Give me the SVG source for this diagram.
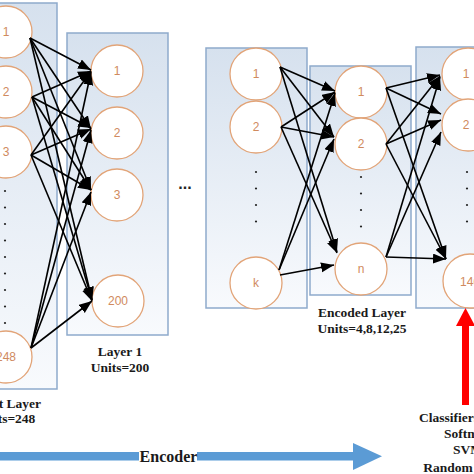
<svg xmlns="http://www.w3.org/2000/svg" width="474" height="474" viewBox="0 0 474 474">
<style>
.box{fill:url(#bg);stroke:#8eaacc;stroke-width:1.5}
.nd{fill:#ffffff;stroke:#e2a478;stroke-width:1.3}
.nl{font-family:"Liberation Sans",Arial,sans-serif;font-size:12px;fill:#d08a5e;text-anchor:middle}
.lb{font-family:"Liberation Serif","Times New Roman",serif;font-weight:bold;font-size:13.5px;fill:#1a1a1a;text-anchor:middle}
.cn line{stroke:#000;stroke-width:1.6;marker-end:url(#ah)}
.dt{fill:#222}
</style>
<defs>
<linearGradient id="bg" x1="0" y1="0" x2="0" y2="1">
<stop offset="0" stop-color="#d6e1ee"/>
<stop offset="1" stop-color="#f8fafd"/>
</linearGradient>
<marker id="ah" markerUnits="userSpaceOnUse" markerWidth="14" markerHeight="11" refX="13" refY="5" orient="auto">
<path d="M0,0 L13,5 L0,10 Z" fill="#000"/>
</marker>
</defs>
<rect width="474" height="474" fill="#fff"/>

<g id="input-layer">
<rect class="box" x="-10" y="3" width="67" height="386"/>
<circle class="nd" cx="6" cy="32" r="26"/><text class="nl" x="6" y="36">1</text>
<circle class="nd" cx="6" cy="92" r="26"/><text class="nl" x="6" y="96">2</text>
<circle class="nd" cx="6" cy="152" r="26"/><text class="nl" x="6" y="156">3</text>
<circle class="nd" cx="6" cy="357" r="26"/><text class="nl" x="6" y="361">248</text>
<g class="dt">
<circle cx="5" cy="191" r="1.1"/><circle cx="5" cy="207.5" r="1.1"/><circle cx="5" cy="224" r="1.1"/>
<circle cx="5" cy="240.5" r="1.1"/><circle cx="5" cy="257" r="1.1"/><circle cx="5" cy="273.5" r="1.1"/>
<circle cx="5" cy="290" r="1.1"/><circle cx="5" cy="306.5" r="1.1"/><circle cx="5" cy="323" r="1.1"/>
</g>
<text class="lb" x="6" y="408">Input Layer</text>
<text class="lb" x="6" y="423">Units=248</text>
</g>

<g id="layer-1">
<rect class="box" x="67" y="33" width="101" height="302"/>
<circle class="nd" cx="117" cy="71" r="26"/><text class="nl" x="117" y="75">1</text>
<circle class="nd" cx="117" cy="133" r="26"/><text class="nl" x="117" y="137">2</text>
<circle class="nd" cx="117" cy="195" r="26"/><text class="nl" x="117" y="199">3</text>
<circle class="nd" cx="118" cy="301" r="26"/><text class="nl" x="118" y="305">200</text>
<text class="lb" x="120" y="356">Layer 1</text>
<text class="lb" x="120" y="372">Units=200</text>
</g>

<g id="ellipsis">
<text x="185" y="189" style="font-family:'Liberation Sans',Arial,sans-serif;font-size:16px;font-weight:bold;fill:#222;text-anchor:middle">...</text>
</g>

<g id="layer-k">
<rect class="box" x="206" y="48" width="101" height="260"/>
<circle class="nd" cx="256" cy="74" r="26"/><text class="nl" x="256" y="78">1</text>
<circle class="nd" cx="256" cy="127" r="26"/><text class="nl" x="256" y="131">2</text>
<circle class="nd" cx="256" cy="283" r="26"/><text class="nl" x="256" y="287">k</text>
<g class="dt">
<circle cx="256" cy="172" r="1.1"/><circle cx="256" cy="188.5" r="1.1"/><circle cx="256" cy="205" r="1.1"/><circle cx="256" cy="221.5" r="1.1"/>
</g>
</g>

<g id="encoded-layer">
<rect class="box" x="310" y="66" width="101" height="229"/>
<circle class="nd" cx="361" cy="92" r="26"/><text class="nl" x="361" y="96">1</text>
<circle class="nd" cx="361" cy="144" r="26"/><text class="nl" x="361" y="148">2</text>
<circle class="nd" cx="361" cy="269" r="26"/><text class="nl" x="361" y="273">n</text>
<g class="dt">
<circle cx="361" cy="177" r="1.1"/><circle cx="361" cy="193.5" r="1.1"/><circle cx="361" cy="210" r="1.1"/><circle cx="361" cy="226.5" r="1.1"/>
</g>
<text class="lb" x="362" y="317">Encoded Layer</text>
<text class="lb" x="362" y="333">Units=4,8,12,25</text>
</g>

<g id="output-layer">
<rect class="box" x="416" y="47" width="70" height="261"/>
<circle class="nd" cx="468" cy="74" r="26"/><text class="nl" x="466" y="78">1</text>
<circle class="nd" cx="468" cy="125" r="26"/><text class="nl" x="466" y="129">2</text>
<circle class="nd" cx="470" cy="281" r="27"/><text class="nl" x="470" y="286">146</text>
<g class="dt">
<circle cx="467" cy="172" r="1.1"/><circle cx="467" cy="188.5" r="1.1"/><circle cx="467" cy="205" r="1.1"/><circle cx="467" cy="221.5" r="1.1"/>
</g>
</g>

<g id="connectors" class="cn">
<line x1="30" y1="38" x2="91" y2="70"/>
<line x1="30" y1="38" x2="91" y2="129"/>
<line x1="30" y1="38" x2="91" y2="190"/>
<line x1="30" y1="38" x2="92" y2="300"/>
<line x1="32" y1="97" x2="91" y2="71"/>
<line x1="32" y1="97" x2="91" y2="128"/>
<line x1="32" y1="97" x2="91" y2="190"/>
<line x1="32" y1="97" x2="92" y2="300"/>
<line x1="31" y1="155" x2="91" y2="71"/>
<line x1="31" y1="155" x2="91" y2="129"/>
<line x1="31" y1="155" x2="91" y2="190"/>
<line x1="31" y1="155" x2="92" y2="301"/>
<line x1="31" y1="348" x2="91" y2="72"/>
<line x1="31" y1="348" x2="91" y2="130"/>
<line x1="31" y1="348" x2="91" y2="192"/>
<line x1="31" y1="348" x2="92" y2="301"/>

<line x1="280" y1="67" x2="335" y2="91"/>
<line x1="280" y1="67" x2="334" y2="137"/>
<line x1="280" y1="67" x2="337" y2="252"/>
<line x1="281" y1="127" x2="335" y2="92"/>
<line x1="281" y1="127" x2="334" y2="137"/>
<line x1="281" y1="127" x2="337" y2="253"/>
<line x1="279" y1="270" x2="335" y2="93"/>
<line x1="279" y1="270" x2="334" y2="139"/>
<line x1="280" y1="275" x2="334" y2="265"/>

<line x1="386" y1="88" x2="440" y2="75"/>
<line x1="386" y1="88" x2="441" y2="114"/>
<line x1="386" y1="88" x2="446" y2="259"/>
<line x1="386" y1="144" x2="440" y2="76"/>
<line x1="386" y1="144" x2="441" y2="120"/>
<line x1="386" y1="144" x2="446" y2="259"/>
<line x1="386" y1="257" x2="440" y2="77"/>
<line x1="386" y1="257" x2="441" y2="132"/>
<line x1="386" y1="257" x2="446" y2="259"/>
</g>

<g id="classifier-arrow">
<rect x="462" y="324" width="7" height="81" fill="#ff0000"/>
<polygon points="465.5,308 475,326 456,326" fill="#ff0000"/>
</g>
<g id="classifier-label">
<text class="lb" x="419" y="422" style="text-anchor:start">Classifiers:</text>
<text class="lb" x="468" y="438">Softmax</text>
<text class="lb" x="468" y="454">SVM</text>
<text class="lb" x="468" y="472">Random Forest</text>
</g>

<g id="encoder-arrow">
<rect x="0" y="452" width="139" height="8.5" fill="#5b9bd5"/>
<rect x="197" y="452" width="157" height="8.5" fill="#5b9bd5"/>
<polygon points="353,443 382,456.2 353,470" fill="#5b9bd5"/>
<text x="168.5" y="461.5" style="font-family:'Liberation Serif','Times New Roman',serif;font-weight:bold;font-size:16px;fill:#1a1a1a;text-anchor:middle">Encoder</text>
</g>
</svg>
